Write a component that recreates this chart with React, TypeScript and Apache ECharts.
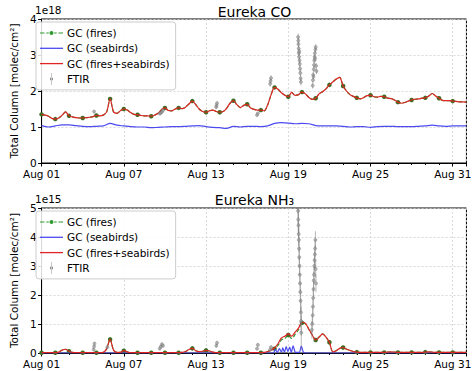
import React, { useEffect, useRef } from "react";
import * as echarts from "echarts";

const FONT = "DejaVu Sans";

// ---------- shared axis data ----------
const xTickLabels = ["Aug 01", "Aug 07", "Aug 13", "Aug 19", "Aug 25", "Aug 31"];
const stepModel = 0.25; // 6-hourly model output (days since Aug 01 00:00)
const stepSeabirdCO = 0.5; // 12-hourly

// ---------- CO (1e18 molec/cm2) ----------
const coFiresSeabirds = [
  1.35, 1.33, 1.30, 1.24,
  1.22, 1.25, 1.33, 1.42,
  1.31, 1.28, 1.26, 1.25,
  1.25, 1.26, 1.27, 1.29,
  1.32, 1.31, 1.33, 1.42,
  1.78, 1.42, 1.38, 1.45,
  1.50, 1.47, 1.40, 1.35,
  1.34, 1.32, 1.31, 1.31,
  1.30, 1.33, 1.38, 1.48,
  1.53, 1.46, 1.45, 1.50,
  1.53, 1.51, 1.55, 1.64,
  1.72, 1.62, 1.50, 1.43,
  1.41, 1.45, 1.47, 1.43,
  1.41, 1.43, 1.52, 1.66,
  1.73, 1.62, 1.54, 1.60,
  1.63, 1.53, 1.49, 1.47,
  1.47, 1.45, 1.62, 1.90,
  2.10, 2.05, 1.95, 1.88,
  1.84, 1.96, 1.88, 1.90,
  1.97, 1.92, 1.82, 1.77,
  1.80, 1.92, 1.98, 2.06,
  2.17, 2.25, 2.33, 2.38,
  2.14, 2.00, 1.90, 1.85,
  1.81, 1.78, 1.82, 1.87,
  1.88, 1.84, 1.83, 1.85,
  1.84, 1.80, 1.79, 1.75,
  1.69, 1.66, 1.68, 1.72,
  1.75, 1.77, 1.78, 1.80,
  1.81, 1.86, 1.93, 1.86,
  1.80, 1.74, 1.73, 1.73,
  1.72, 1.71, 1.70, 1.70,
  1.69,
];
// fires-only run: identical to fires+seabirds for CO
const coFires = [
  1.35, 1.33, 1.30, 1.24,
  1.22, 1.25, 1.33, 1.42,
  1.31, 1.28, 1.26, 1.25,
  1.25, 1.26, 1.27, 1.29,
  1.32, 1.31, 1.33, 1.42,
  1.78, 1.42, 1.38, 1.45,
  1.50, 1.47, 1.40, 1.35,
  1.34, 1.32, 1.31, 1.31,
  1.30, 1.33, 1.38, 1.48,
  1.53, 1.46, 1.45, 1.50,
  1.53, 1.51, 1.55, 1.64,
  1.72, 1.62, 1.50, 1.43,
  1.41, 1.45, 1.47, 1.43,
  1.41, 1.43, 1.52, 1.66,
  1.73, 1.62, 1.54, 1.60,
  1.63, 1.53, 1.49, 1.47,
  1.47, 1.45, 1.62, 1.90,
  2.10, 2.05, 1.95, 1.88,
  1.84, 1.96, 1.88, 1.90,
  1.97, 1.92, 1.82, 1.77,
  1.80, 1.92, 1.98, 2.06,
  2.17, 2.25, 2.33, 2.38,
  2.14, 2.00, 1.90, 1.85,
  1.81, 1.78, 1.82, 1.87,
  1.88, 1.84, 1.83, 1.85,
  1.84, 1.80, 1.79, 1.75,
  1.69, 1.66, 1.68, 1.72,
  1.75, 1.77, 1.78, 1.80,
  1.81, 1.86, 1.93, 1.86,
  1.80, 1.74, 1.73, 1.73,
  1.72, 1.71, 1.70, 1.70,
  1.69,
];
const coSeabirds = [
  1.04, 1.00, 1.03, 1.06, 1.06, 1.04, 1.02, 1.01, 1.02, 1.03,
  1.10, 1.05, 1.03, 1.01, 1.00, 1.00, 0.98, 0.99, 1.00, 1.01,
  1.01, 1.02, 1.03, 1.04, 1.01, 0.99, 0.98, 0.96, 1.02, 1.00,
  1.02, 1.02, 1.01, 1.03, 1.10, 1.12, 1.11, 1.09, 1.10, 1.09,
  1.04, 1.03, 1.03, 1.03, 1.02, 1.00, 1.01, 1.01, 0.99, 1.01,
  1.02, 1.02, 1.01, 1.01, 1.01, 1.02, 1.03, 1.05, 1.03, 1.02,
  1.03, 1.03, 1.03,
];
const ftirCoDay = [
  3.83, 8.62, 8.70, 8.78, 8.86, 12.74, 12.77, 12.80, 15.72, 15.78, 16.68, 16.71, 16.74,
  18.72, 18.73, 18.74, 18.76, 18.77, 18.79, 18.80, 18.82, 18.84, 18.86, 18.88, 18.90, 18.92,
  19.78, 19.80, 19.82, 19.84, 19.86, 19.88, 19.90, 19.92, 19.94, 19.96, 19.98, 20.00, 20.03, 20.06,
];
const ftirCoVal = [
  1.43, 1.37, 1.39, 1.42, 1.46, 1.55, 1.60, 1.66, 1.33, 1.38, 2.20, 2.28, 2.36,
  3.50, 3.40, 3.30, 3.18, 3.05, 2.95, 3.10, 2.85, 2.75, 2.62, 2.50, 2.35, 2.25,
  2.15, 2.30, 2.45, 2.40, 2.60, 2.72, 2.85, 2.95, 3.05, 2.90, 3.15, 3.22, 2.70, 2.55,
];
const ftirCoErr = [
  0.04, 0.03, 0.03, 0.03, 0.03, 0.05, 0.05, 0.05, 0.04, 0.04, 0.08, 0.08, 0.08,
  0.10, 0.10, 0.10, 0.10, 0.10, 0.10, 0.10, 0.10, 0.10, 0.10, 0.10, 0.10, 0.10,
  0.08, 0.08, 0.08, 0.08, 0.08, 0.08, 0.08, 0.08, 0.08, 0.08, 0.08, 0.08, 0.08, 0.08,
];

// ---------- NH3 (1e15 molec/cm2) ----------
const nh3FiresSeabirds = [
  0.01, 0.01, 0.01, 0.01,
  0.01, 0.03, 0.10, 0.13,
  0.06, 0.02, 0.01, 0.01,
  0.01, 0.01, 0.01, 0.01,
  0.01, 0.01, 0.02, 0.15,
  0.47, 0.10, 0.02, 0.02,
  0.08, 0.04, 0.01, 0.01,
  0.01, 0.01, 0.01, 0.01,
  0.01, 0.01, 0.01, 0.01,
  0.01, 0.01, 0.01, 0.01,
  0.01, 0.02, 0.05, 0.12,
  0.16, 0.08, 0.05, 0.06,
  0.09, 0.07, 0.03, 0.01,
  0.01, 0.01, 0.01, 0.01,
  0.01, 0.01, 0.01, 0.01,
  0.01, 0.01, 0.01, 0.01,
  0.01, 0.02, 0.05, 0.10,
  0.18, 0.32, 0.52, 0.58,
  0.66, 0.58, 0.72, 0.86,
  1.06, 1.02, 0.82, 0.62,
  0.45, 0.55, 0.66, 0.55,
  0.37, 0.04, 0.08, 0.16,
  0.19, 0.13, 0.09, 0.05,
  0.03, 0.02, 0.02, 0.02,
  0.02, 0.02, 0.02, 0.02,
  0.02, 0.03, 0.04, 0.03,
  0.02, 0.02, 0.02, 0.02,
  0.02, 0.02, 0.02, 0.02,
  0.03, 0.04, 0.03, 0.02,
  0.02, 0.02, 0.02, 0.02,
  0.02, 0.02, 0.02, 0.02,
  0.02,
];
const nh3Fires = [
  0.01, 0.01, 0.01, 0.01,
  0.01, 0.03, 0.10, 0.13,
  0.06, 0.02, 0.01, 0.01,
  0.01, 0.01, 0.01, 0.01,
  0.01, 0.01, 0.02, 0.15,
  0.47, 0.10, 0.02, 0.02,
  0.08, 0.04, 0.01, 0.01,
  0.01, 0.01, 0.01, 0.01,
  0.01, 0.01, 0.01, 0.01,
  0.01, 0.01, 0.01, 0.01,
  0.01, 0.02, 0.05, 0.12,
  0.16, 0.08, 0.05, 0.06,
  0.09, 0.07, 0.03, 0.01,
  0.01, 0.01, 0.01, 0.01,
  0.01, 0.01, 0.01, 0.01,
  0.01, 0.01, 0.01, 0.01,
  0.01, 0.02, 0.05, 0.10,
  0.15, 0.26, 0.45, 0.50,
  0.62, 0.50, 0.64, 0.80,
  1.04, 1.01, 0.82, 0.62,
  0.45, 0.55, 0.66, 0.55,
  0.37, 0.04, 0.08, 0.16,
  0.19, 0.13, 0.09, 0.05,
  0.03, 0.02, 0.02, 0.02,
  0.02, 0.02, 0.02, 0.02,
  0.02, 0.03, 0.04, 0.03,
  0.02, 0.02, 0.02, 0.02,
  0.02, 0.02, 0.02, 0.02,
  0.03, 0.04, 0.03, 0.02,
  0.02, 0.02, 0.02, 0.02,
  0.02, 0.02, 0.02, 0.02,
  0.02,
];
const nh3SeabirdsDay = [0, 16.9, 17.05, 17.2, 17.35, 17.5, 17.6, 17.72, 17.85, 17.97, 18.1, 18.22, 18.35, 18.5, 18.6, 18.8, 18.95, 19.1, 19.25, 31];
const nh3SeabirdsVal = [0, 0, 0.12, 0.02, 0.15, 0.03, 0.18, 0.02, 0.22, 0.05, 0.20, 0.02, 0.25, 0.03, 0.02, 0.02, 0.24, 0.03, 0, 0];
const ftirNh3Day = [
  3.80, 3.83, 3.86, 4.80, 8.62, 8.70, 8.78, 8.86, 12.75, 12.80, 15.72, 15.78, 16.68, 16.74,
  18.70, 18.72, 18.73, 18.74, 18.76, 18.77, 18.79, 18.80, 18.82, 18.84, 18.86, 18.88, 18.90, 18.92, 18.94, 18.95,
  19.72, 19.75, 19.78, 19.80, 19.82, 19.84, 19.86, 19.88, 19.90, 19.92, 19.94, 19.96, 19.98, 20.00, 20.02,
];
const ftirNh3Val = [
  0.12, 0.22, 0.32, 0.20, 0.15, 0.22, 0.30, 0.25, 0.25, 0.35, 0.15, 0.28, 0.12, 0.20,
  5.30, 4.90, 4.60, 4.40, 4.10, 3.90, 3.60, 3.30, 3.00, 2.70, 2.40, 2.10, 1.80, 1.40, 1.10, 0.70,
  0.80, 1.00, 1.30, 1.60, 1.90, 2.20, 2.50, 2.70, 3.00, 3.20, 3.40, 3.60, 3.90, 2.90, 2.40,
];
const ftirNh3Err = [
  0.05, 0.06, 0.07, 0.06, 0.05, 0.06, 0.07, 0.06, 0.06, 0.07, 0.05, 0.06, 0.05, 0.06,
  0.50, 0.45, 0.45, 0.40, 0.40, 0.40, 0.40, 0.35, 0.35, 0.35, 0.35, 0.35, 0.40, 0.45, 0.50, 0.60,
  0.30, 0.30, 0.30, 0.30, 0.30, 0.30, 0.30, 0.30, 0.30, 0.30, 0.30, 0.30, 0.30, 0.30, 0.30,
];

const NAMES = ["GC (fires)", "GC (seabirds)", "GC (fires+seabirds)", "FTIR"];
const GREEN = "#2f9a2f";
const GREEN_MARK = "#3c6e22";
const BLUE = "#4b4bf0";
const RED = "#e02424";
const GRAY = "#8a8a8a";
const ftirIcon =
  "path://M4.6,0H5.4V20H4.6Z M5,7.3A2.7,2.7,0,1,0,5,12.7A2.7,2.7,0,1,0,5,7.3Z";
const lineIcon = "path://M0,0H23V1.3H0Z";
const dashDotIcon =
  "path://M0,4.4H4.5V5.6H0Z M6.3,4.4H8.8V5.6H6.3Z M14.2,4.4H16.7V5.6H14.2Z M18.5,4.4H23V5.6H18.5Z M11.5,3A2,2,0,1,0,11.5,7A2,2,0,1,0,11.5,3Z M0,0H0.01V10H0Z";

function modelPairs(vals: number[], step: number) {
  return vals.map((v, i) => [i * step, v]);
}
function firePairs(vals: number[]) {
  return vals.map((v, i) => ({
    value: [i * stepModel, v],
    symbol: i % 4 === 0 && i < vals.length - 1 ? "circle" : "none",
  }));
}
function ftirTriples(d: number[], v: number[], e: number[]) {
  return d.map((x, i) => [x, v[i], e[i]]);
}

const errorBar = (params: any, api: any) => {
  const x = api.value(0);
  const y = api.value(1);
  const e = api.value(2);
  const a = api.coord([x, y + e]);
  const b = api.coord([x, y - e]);
  return {
    type: "line",
    shape: { x1: a[0], y1: a[1], x2: b[0], y2: b[1] },
    style: { stroke: "rgba(120,120,120,0.75)", lineWidth: 0.7 },
  };
};

function xAxisFor(gridIndex: number) {
  return {
    type: "value",
    gridIndex,
    min: 0,
    max: 31,
    interval: 6,
    axisLine: { show: true, onZero: false, lineStyle: { color: "#000", width: 1 } },
    axisTick: { show: true, inside: false, length: 3.5, lineStyle: { color: "#000" } },
    minorTick: { show: true, splitNumber: 6, length: 2, lineStyle: { color: "#000" } },
    axisLabel: {
      color: "#000",
      fontFamily: FONT,
      fontSize: 10.5,
      margin: 5,
      formatter: (v: number) => (v % 6 === 0 && v <= 30 ? xTickLabels[v / 6] : ""),
    },
    splitLine: { show: true, lineStyle: { color: "#cfcfcf", type: [2, 2], width: 0.8 } },
  };
}
function yAxisFor(gridIndex: number, max: number) {
  return {
    type: "value",
    gridIndex,
    min: 0,
    max,
    interval: 1,
    name: "Total Column [molec/cm²]",
    nameLocation: "middle",
    nameGap: 18,
    nameRotate: 90,
    nameTextStyle: { color: "#000", fontFamily: FONT, fontSize: 10.5 },
    axisLine: { show: true, lineStyle: { color: "#000", width: 1 } },
    axisTick: { show: true, inside: false, length: 3.5, lineStyle: { color: "#000" } },
    axisLabel: { color: "#000", fontFamily: FONT, fontSize: 10.5, margin: 5 },
    splitLine: { show: true, lineStyle: { color: "#cfcfcf", type: [2, 2], width: 0.8 } },
  };
}

function panelSeries(
  idx: number,
  fires: number[],
  seabirds: number[][],
  firesSeabirds: number[],
  ftir: number[][]
) {
  return [
    {
      type: "line",
      name: NAMES[0],
      xAxisIndex: idx,
      yAxisIndex: idx,
      data: firePairs(fires),
      smooth: 0.3,
      symbol: "circle",
      symbolSize: 4.5,
      showSymbol: true,
      itemStyle: { color: GREEN_MARK },
      lineStyle: { color: GREEN, width: 1.2, type: [4, 2] },
      z: 2,
    },
    {
      type: "line",
      name: NAMES[1],
      xAxisIndex: idx,
      yAxisIndex: idx,
      data: seabirds,
      smooth: 0.3,
      symbol: "none",
      itemStyle: { color: BLUE },
      lineStyle: { color: BLUE, width: 1.2 },
      z: 3,
    },
    {
      type: "line",
      name: NAMES[2],
      xAxisIndex: idx,
      yAxisIndex: idx,
      data: modelPairs(firesSeabirds, stepModel),
      smooth: 0.3,
      symbol: "none",
      itemStyle: { color: RED },
      lineStyle: { color: RED, width: 1.2 },
      z: 4,
    },
    {
      type: "custom",
      name: NAMES[3],
      xAxisIndex: idx,
      yAxisIndex: idx,
      data: ftir,
      encode: { x: 0, y: 1 },
      renderItem: errorBar,
      clip: true,
      itemStyle: { color: GRAY },
      z: 5,
    },
    {
      type: "scatter",
      name: NAMES[3],
      xAxisIndex: idx,
      yAxisIndex: idx,
      data: ftir.map((r) => [r[0], r[1]]),
      symbolSize: 3.2,
      clip: true,
      itemStyle: { color: "rgba(150,150,150,0.8)", borderColor: "rgba(100,100,100,0.8)", borderWidth: 0.5 },
      z: 6,
    },
  ];
}

function legendAt(top: number) {
  return {
    left: 36,
    top,
    orient: "vertical",
    itemWidth: 23,
    itemHeight: 12,
    itemGap: 3.3,
    padding: [5, 6, 5, 4],
    backgroundColor: "rgba(255,255,255,0.85)",
    borderColor: "#cccccc",
    borderWidth: 1,
    borderRadius: 3,
    textStyle: { color: "#000", fontFamily: FONT, fontSize: 10.5, lineHeight: 12, padding: [0, 0, 0, -1] },
    selectedMode: false,
    data: [
      { name: NAMES[0], icon: dashDotIcon, itemStyle: { color: GREEN, borderWidth: 0 } },
      { name: NAMES[1], icon: lineIcon, itemStyle: { color: BLUE, borderWidth: 0 } },
      { name: NAMES[2], icon: lineIcon, itemStyle: { color: RED, borderWidth: 0 } },
      { name: NAMES[3], icon: ftirIcon, itemStyle: { color: GRAY, borderWidth: 0 } },
    ],
  };
}

const option: any = {
  animation: false,
  backgroundColor: "#fff",
  title: [
    { text: "Eureka CO", left: 249.5, top: 0, textAlign: "center", textStyle: { fontFamily: FONT, fontSize: 14, fontWeight: "normal", color: "#000" } },
    { text: "Eureka NH₃", left: 249.5, top: 188, textAlign: "center", textStyle: { fontFamily: FONT, fontSize: 14, fontWeight: "normal", color: "#000" } },
  ],
  grid: [
    { left: 31, top: 19, width: 437, height: 144, show: true, borderColor: "#000", borderWidth: 1, backgroundColor: "transparent" },
    { left: 31, top: 208, width: 437, height: 145, show: true, borderColor: "#000", borderWidth: 1, backgroundColor: "transparent" },
  ],
  legend: [legendAt(22), legendAt(211)],
  xAxis: [xAxisFor(0), xAxisFor(1)],
  yAxis: [yAxisFor(0, 4), yAxisFor(1, 5)],
  graphic: [
    { type: "text", left: 35, top: 4, style: { text: "1e18", fontFamily: FONT, fontSize: 10.5, fill: "#000" } },
    { type: "text", left: 35, top: 193, style: { text: "1e15", fontFamily: FONT, fontSize: 10.5, fill: "#000" } },
  ],
  series: [
    ...panelSeries(
      0,
      coFires,
      modelPairs(coSeabirds, stepSeabirdCO),
      coFiresSeabirds,
      ftirTriples(ftirCoDay, ftirCoVal, ftirCoErr)
    ),
    ...panelSeries(
      1,
      nh3Fires,
      nh3SeabirdsDay.map((d, i) => [d, nh3SeabirdsVal[i]]),
      nh3FiresSeabirds,
      ftirTriples(ftirNh3Day, ftirNh3Val, ftirNh3Err)
    ),
  ],
};

export default function App() {
  const ref = useRef<HTMLDivElement>(null);
  useEffect(() => {
    document.body.style.margin = "0";
    const chart = echarts.init(ref.current!, null, { renderer: "svg" });
    chart.setOption(option);
    return () => chart.dispose();
  }, []);
  return <div ref={ref} style={{ width: 474, height: 371, position: "absolute", left: 0, top: 0 }} />;
}
